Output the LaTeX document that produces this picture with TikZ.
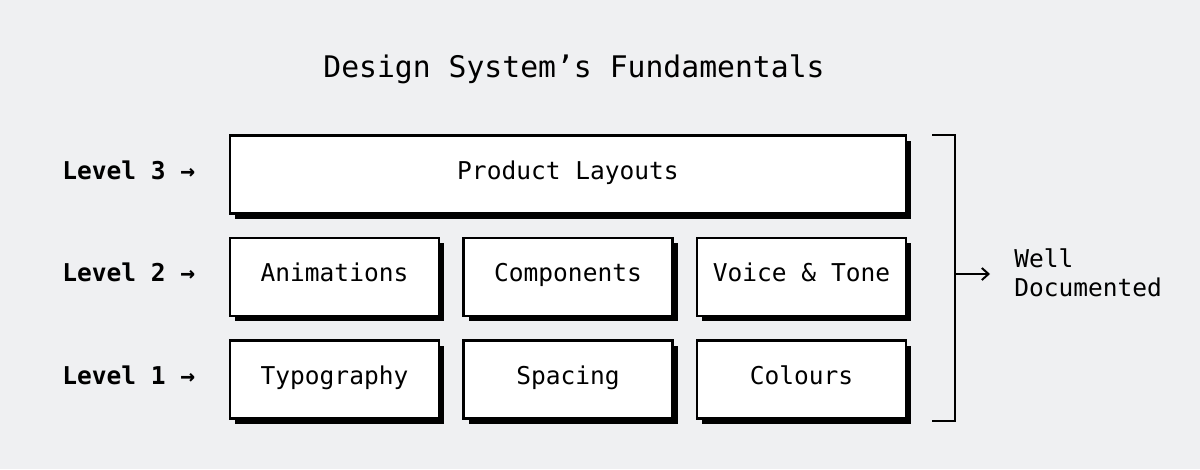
\documentclass[tikz,border=0pt]{standalone}
\usepackage{fontspec}
\setmainfont{DejaVu Sans Mono}
\usetikzlibrary{positioning}
\usetikzlibrary{shadows}
\usetikzlibrary{arrows.meta}
\definecolor{bggrey}{RGB}{239, 240, 242}

\tikzset{
  block/.style={draw, line width=1.7pt, fill=white, minimum width=156.75pt, minimum height=58.5pt,
    inner sep=0pt, text height=1.75ex, text depth=0.45ex, font=\fontsize{18.4}{22}\selectfont,
    drop shadow={shadow xshift=3.75pt, shadow yshift=-3.75pt, opacity=1, fill=black}},
  levellabel/.style={anchor=west, inner sep=0pt, text height=1.75ex, text depth=0.45ex,
    font=\fontsize{18.4}{22}\selectfont\bfseries},
}

\begin{document}
\begin{tikzpicture}[x=0.75pt, y=-0.75pt]
    \fill [bggrey] (0, 0) rectangle (1200, 469);
    \useasboundingbox (0, 0) rectangle (1200, 469);

    \node [font=\fontsize{22.3}{26}\selectfont] (title) at (574, 69) {Design System’s Fundamentals};

    \node [block, minimum width=507pt] (layouts) at (568, 174.5) {Product Layouts};
    \node [block] (anim) at (334.5, 277) {Animations};
    \node [block] (comp) at (568, 277) {Components};
    \node [block] (voice) at (801.5, 277) {Voice \& Tone};
    \node [block] (typo) at (334.5, 379.5) {Typography};
    \node [block] (spacing) at (568, 379.5) {Spacing};
    \node [block] (colours) at (801.5, 379.5) {Colours};

    \node [levellabel] (lvlthree) at (62, 174.5) {Level 3 →};
    \node [levellabel] (lvltwo) at (62, 277) {Level 2 →};
    \node [levellabel] (lvlone) at (62, 379.5) {Level 1 →};

    \coordinate (brtop) at (955, 135);
    \coordinate (brbot) at (955, 421);
    \coordinate (brmid) at (955, 274);
    \draw [line width=1.5pt] (932, 135) -- (brtop) -- (brbot) -- (932, 421);

    \node [anchor=west, inner sep=0pt, align=left, font=\fontsize{18.4}{22}\selectfont] (doc) at (1014, 273) {Well\\Documented};
    \draw [line width=1.5pt, -{Straight Barb[length=5pt, width=9pt]}] (brmid) -- ([xshift=-18pt]doc.west |- brmid);
\end{tikzpicture}
\end{document}
